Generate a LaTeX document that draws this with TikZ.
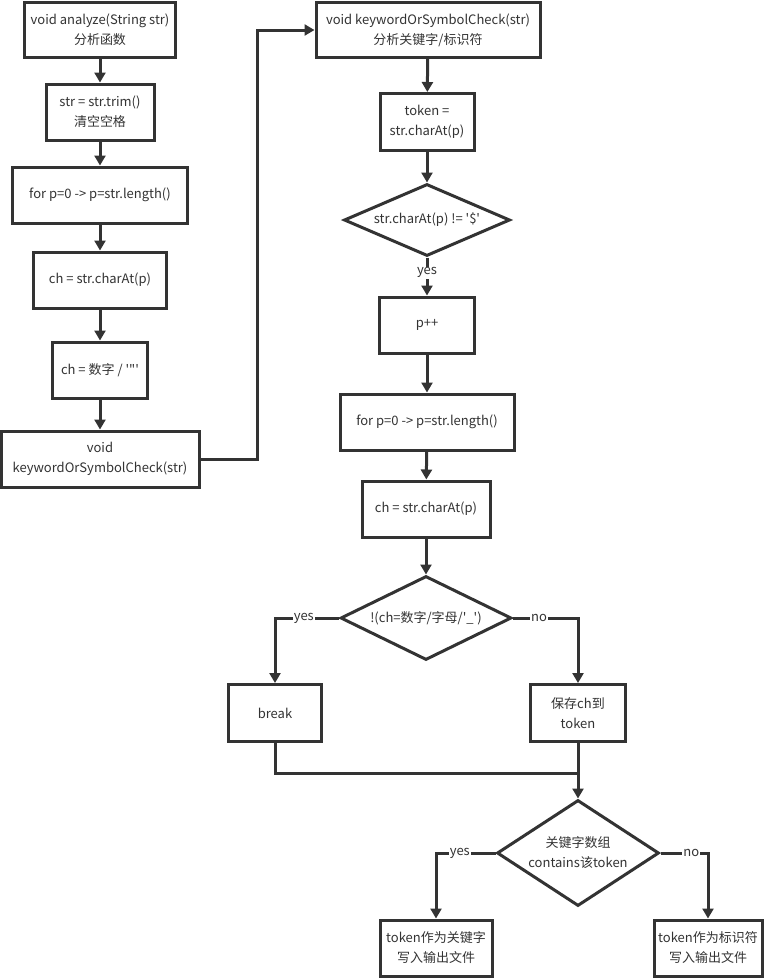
\documentclass[tikz,border=0pt]{standalone}
\usepackage{fontspec}
\setmainfont{Noto Sans CJK SC}[Ligatures=TeXOff]
\usetikzlibrary{shapes.geometric,arrows.meta}

\definecolor{linegray}{HTML}{333333}

\tikzset{
  box/.style={draw=linegray, line width=3pt, fill=white, align=center, inner sep=2pt, text=linegray},
  decision/.style={diamond, draw=linegray, line width=3pt, fill=white, align=center, inner sep=0pt, text=linegray},
  line/.style={draw=linegray, line width=3pt},
  flow/.style={line, -{Triangle[length=10pt,width=11pt]}},
  branch/.style={fill=white, inner sep=1pt, text=linegray},
}

\begin{document}
\begin{tikzpicture}[x=1pt, y=-1pt, font=\fontsize{13}{20}\selectfont]
  \useasboundingbox (0,0) rectangle (768,978);

  % left column
  \node[box, minimum width=151, minimum height=55] (analyze) at (100,30) {void analyze(String str)\\分析函数};
  \node[box, minimum width=108, minimum height=56] (trim) at (100,112) {str = str.trim()\\清空空格};
  \node[box, minimum width=175, minimum height=56] (loop) at (100,195) {for p=0 -> p=str.length()};
  \node[box, minimum width=133, minimum height=56] (getch) at (100,280) {ch = str.charAt(p)};
  \node[box, minimum width=95, minimum height=56] (isnum) at (100,370) {ch = 数字 / '"'};
  \node[box, minimum width=198, minimum height=56] (call) at (100,459) {void\\keywordOrSymbolCheck(str)};

  % right column
  \node[box, minimum width=224, minimum height=55] (check) at (428,30) {void keywordOrSymbolCheck(str)\\分析关键字/标识符};
  \node[box, minimum width=94, minimum height=57] (token) at (427,122) {token =\\str.charAt(p)};
  \node[decision, aspect=2.3, minimum width=166, minimum height=72] (dollar) at (427,220) {str.charAt(p) != '\$'};
  \node[box, minimum width=95, minimum height=56] (inc) at (427,325) {p++};
  \node[box, minimum width=174, minimum height=56] (loop2) at (427,422) {for p=0 -> p=str.length()};
  \node[box, minimum width=128, minimum height=56] (getch2) at (426,509) {ch = str.charAt(p)};
  \node[decision, aspect=2, minimum width=171, minimum height=84] (isword) at (426,618) {!(ch=数字/字母/'\_')};
  \node[box, minimum width=93, minimum height=57] (brk) at (275,713) {break};
  \node[box, minimum width=95, minimum height=57] (save) at (578,713) {保存ch到\\token};
  \node[decision, aspect=1.5, minimum width=162, minimum height=106] (iskey) at (578,853) {关键字数组\\contains该token};
  \node[box, minimum width=112, minimum height=56] (keyout) at (436,948) {token作为关键字\\写入输出文件};
  \node[box, minimum width=108, minimum height=56] (idout) at (708,948) {token作为标识符\\写入输出文件};

  \coordinate (turn) at (257,459);
  \coordinate (merge) at (578,773);

  \draw[flow] (analyze) -- (trim);
  \draw[flow] (trim) -- (loop);
  \draw[flow] (loop) -- (getch);
  \draw[flow] (getch) -- (isnum);
  \draw[flow] (isnum) -- (call);
  \draw[flow] (call.east) -- (turn) |- (check.west);

  \draw[flow] (check) -- (token);
  \draw[flow] (token) -- (dollar);
  \draw[flow] (dollar) -- node[branch, pos=0.4] {yes} (inc);
  \draw[flow] (inc) -- (loop2);
  \draw[flow] (loop2) -- (getch2);
  \draw[flow] (getch2) -- (isword);
  \draw[flow] (isword.west) -- node[branch, pos=0.55] {yes} (isword.west -| brk.north) -- (brk.north);
  \draw[flow] (isword.east) -- node[branch, pos=0.4] {no} (isword.east -| save.north) -- (save.north);
  \draw[line] (brk.south) |- (merge);
  \draw[flow] (save) -- (iskey);
  \draw[flow] (iskey.west) -- node[branch, pos=0.6] {yes} (iskey.west -| keyout.north) -- (keyout.north);
  \draw[flow] (iskey.east) -- node[branch, pos=0.65] {no} (iskey.east -| idout.north) -- (idout.north);
\end{tikzpicture}
\end{document}
